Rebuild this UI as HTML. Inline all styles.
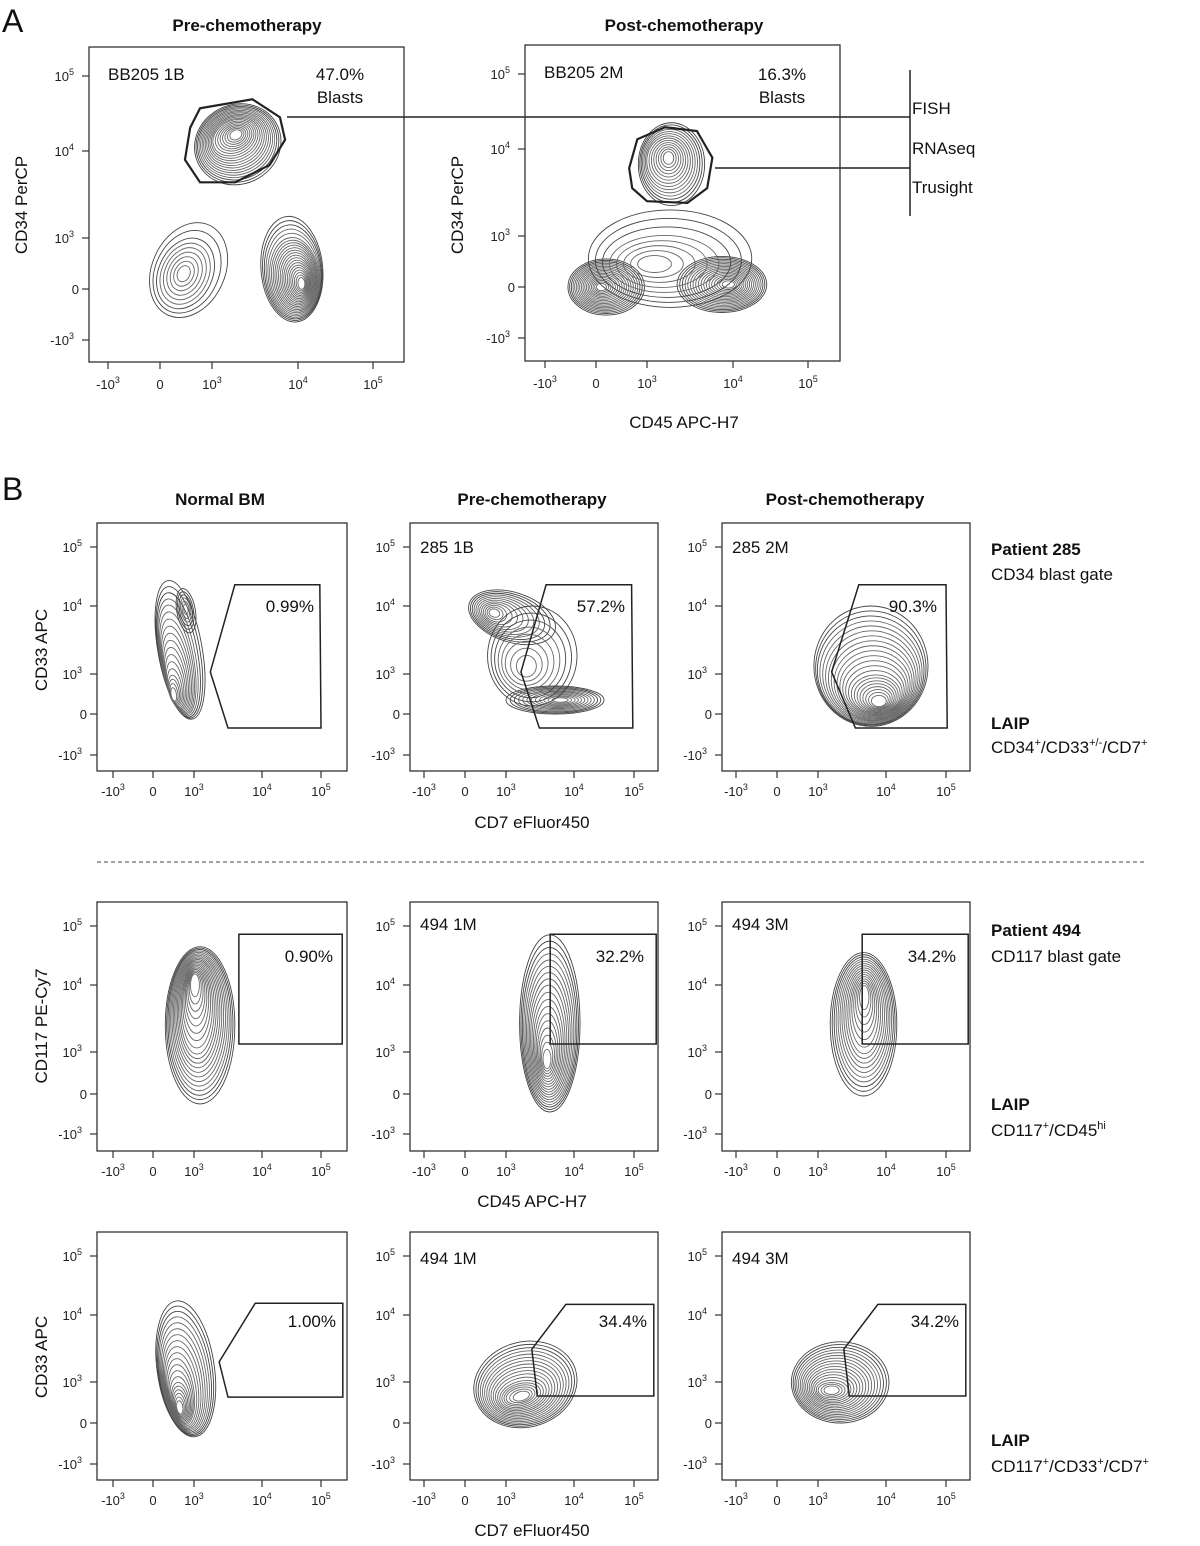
<!DOCTYPE html>
<html><head><meta charset="utf-8">
<style>
html,body{margin:0;padding:0;background:#fff;}
svg{display:block;font-family:"Liberation Sans",Arial,sans-serif;}
</style></head>
<body>
<svg id="fig" width="1200" height="1546" viewBox="0 0 1200 1546" xmlns="http://www.w3.org/2000/svg">
<g id="static" fill="#111">
  <text x="2" y="32" font-size="32">A</text>
  <text x="2" y="500" font-size="32">B</text>
  <text x="247" y="31" font-size="17" font-weight="bold" text-anchor="middle">Pre-chemotherapy</text>
  <text x="684" y="31" font-size="17" font-weight="bold" text-anchor="middle">Post-chemotherapy</text>
  <text x="220" y="505" font-size="17" font-weight="bold" text-anchor="middle">Normal BM</text>
  <text x="532" y="505" font-size="17" font-weight="bold" text-anchor="middle">Pre-chemotherapy</text>
  <text x="845" y="505" font-size="17" font-weight="bold" text-anchor="middle">Post-chemotherapy</text>
  <text x="684" y="428" font-size="17" text-anchor="middle">CD45 APC-H7</text>
  <text x="532" y="828" font-size="17" text-anchor="middle">CD7 eFluor450</text>
  <text x="532" y="1207" font-size="17" text-anchor="middle">CD45 APC-H7</text>
  <text x="532" y="1536" font-size="17" text-anchor="middle">CD7 eFluor450</text>
  <text transform="translate(27,205) rotate(-90)" font-size="17" text-anchor="middle">CD34 PerCP</text>
  <text transform="translate(463,205) rotate(-90)" font-size="17" text-anchor="middle">CD34 PerCP</text>
  <text transform="translate(47,650) rotate(-90)" font-size="17" text-anchor="middle">CD33 APC</text>
  <text transform="translate(47,1026) rotate(-90)" font-size="17" text-anchor="middle">CD117 PE-Cy7</text>
  <text transform="translate(47,1357) rotate(-90)" font-size="17" text-anchor="middle">CD33 APC</text>
  <text x="912" y="114" font-size="17">FISH</text>
  <text x="912" y="154" font-size="17">RNAseq</text>
  <text x="912" y="193" font-size="17">Trusight</text>
  <text x="991" y="555" font-size="17" font-weight="bold">Patient 285</text>
  <text x="991" y="580" font-size="17">CD34 blast gate</text>
  <text x="991" y="729" font-size="17" font-weight="bold">LAIP</text>
  <text x="991" y="753" font-size="17">CD34<tspan font-size="11" dy="-7">+</tspan><tspan dy="7">/CD33</tspan><tspan font-size="11" dy="-7">+/-</tspan><tspan dy="7">/CD7</tspan><tspan font-size="11" dy="-7">+</tspan></text>
  <line x1="97" y1="862" x2="1145" y2="862" stroke="#444" stroke-width="1" stroke-dasharray="4,3"/>
  <text x="991" y="936" font-size="17" font-weight="bold">Patient 494</text>
  <text x="991" y="962" font-size="17">CD117 blast gate</text>
  <text x="991" y="1110" font-size="17" font-weight="bold">LAIP</text>
  <text x="991" y="1136" font-size="17">CD117<tspan font-size="11" dy="-7">+</tspan><tspan dy="7">/CD45</tspan><tspan font-size="11" dy="-7">hi</tspan></text>
  <text x="991" y="1446" font-size="17" font-weight="bold">LAIP</text>
  <text x="991" y="1472" font-size="17">CD117<tspan font-size="11" dy="-7">+</tspan><tspan dy="7">/CD33</tspan><tspan font-size="11" dy="-7">+</tspan><tspan dy="7">/CD7</tspan><tspan font-size="11" dy="-7">+</tspan></text>
  <g stroke="#222" stroke-width="1.5">
    <line x1="287" y1="117" x2="910" y2="117"/>
    <line x1="715" y1="168" x2="910" y2="168"/>
    <line x1="910" y1="70" x2="910" y2="216"/>
  </g>
</g>
<g id="plots"></g>
</svg>
<script>
// tick values (decade display units): -10^3, 0, 10^3, 10^4, 10^5
const tickValues = [-1, 0, 1, 2, 3];
const tickLabels = [["-10","3"],["0",""],["10","3"],["10","4"],["10","5"]];
// populations: [cx, cy, rx, ry, rotationDeg, levels, coreDx, coreDy]
const popsA1 = [[1.23,2.12,0.58,0.5,-25,20,0.05,0.1],[0.5,0.3,0.65,0.9,25,9,-0.05,0],[1.95,0.3,0.38,0.95,-5,22,0.1,-0.2]];
const popsA2 = [[1.25,1.85,0.42,0.5,0,14,0,0.05],[0.2,0.0,0.75,0.55,0,18,-0.1,0],[1.9,0.05,0.55,0.55,0,18,0.05,0],[1.05,0.45,1.2,0.85,0,8,0,0]];
const popsB11 = [[0.62,1.15,0.5,1.3,-10,18,-0.12,-0.7],[0.8,1.95,0.22,0.35,-10,6,0,0]];
const popsB12 = [[0.9,1.85,0.85,0.38,18,12,-0.2,0.05],[1.75,0.35,0.75,0.35,0,12,0.05,0],[1.3,1.1,0.75,0.9,0,8,0,0]];
const popsB13 = [[1.8,0.85,0.9,1.15,0,22,0.1,-0.55]];
const popsB21 = [[0.95,1.2,0.65,1.45,0,20,0.05,0.85]];
const popsB22 = [[1.65,1.2,0.45,1.65,0,18,-0.05,-0.4]];
const popsB23 = [[1.68,1.25,0.5,1.3,0,16,0,0.6]];
const popsB31 = [[0.7,0.95,0.6,1.3,-8,20,-0.05,-0.6]];
const popsB32 = [[1.13,0.75,0.93,0.85,-15,18,0.1,-0.1]];
const popsB33 = [[1.2,0.8,0.85,0.8,0,18,0,0]];
// gate polygons [x, y] in decade units
const gateA1 = [[0.48,1.9],[0.58,2.31],[0.77,2.57],[1.47,2.69],[1.79,2.45],[1.85,2.15],[1.67,1.84],[1.27,1.64],[0.77,1.64]];
const gateA2 = [[0.65,1.78],[0.81,2.13],[1.21,2.29],[1.58,2.24],[1.76,1.9],[1.7,1.55],[1.47,1.38],[1.0,1.4],[0.71,1.55]];
const gateB11 = [[1.24,1.03],[1.6,2.36],[2.98,2.36],[3.0,-0.34],[1.5,-0.34]];
const gateB12 = [[1.22,1.03],[1.59,2.36],[2.96,2.36],[2.98,-0.34],[1.49,-0.34]];
const gateB13 = [[1.2,1.03],[1.6,2.36],[3.0,2.36],[3.02,-0.34],[1.55,-0.34]];
const gateB21 = [[1.66,2.86],[3.36,2.86],[3.36,1.12],[1.66,1.12]];
const gateB22 = [[1.65,2.86],[3.37,2.86],[3.37,1.12],[1.65,1.12]];
const gateB23 = [[1.65,2.86],[3.37,2.86],[3.37,1.12],[1.65,1.12]];
const gateB31 = [[1.37,1.3],[1.9,2.2],[3.37,2.2],[3.37,0.63],[1.5,0.63]];
const gateB32 = [[1.38,1.49],[1.88,2.18],[3.33,2.18],[3.33,0.66],[1.46,0.66]];
const gateB33 = [[1.38,1.49],[1.88,2.18],[3.33,2.18],[3.33,0.66],[1.46,0.66]];
const sampleLabels = ["BB205 1B","BB205 2M","","285 1B","285 2M","","494 1M","494 3M","","494 1M","494 3M"];
const pctLabels = ["47.0%","16.3%","0.99%","57.2%","90.3%","0.90%","32.2%","34.2%","1.00%","34.4%","34.2%"];

const NS = "http://www.w3.org/2000/svg";
const plots = document.getElementById('plots');
function mk(tag, attrs, parent){const e=document.createElementNS(NS,tag);for(const k in attrs)e.setAttribute(k,attrs[k]);parent.appendChild(e);return e;}

// layout (pixel geometry, not data)
const colX = [[97,347,[113,153,194,262,321]],[410,658,[424,465,506,574,634]],[722,970,[736,777,818,886,946]]];
const rowY = [[523,771,[755,714,674,606,547],-33,612,30],[902,1151,[1134,1094,1052,985,926],-14,962,28],[1232,1480,[1464,1423,1382,1315,1256],-11,1327,32]];
const panels = [
 {name:"a-pre",x0:89,x1:404,y0:47,y1:362,xt:[108,160,212,298,373],yt:[340,289,238,151,76],pops:popsA1,gate:gateA1,gw:2.2,si:0,pl:[340,80],bl:true},
 {name:"a-post",x0:525,x1:840,y0:45,y1:361,xt:[545,596,647,733,808],yt:[338,287,236,149,74],pops:popsA2,gate:gateA2,gw:2.2,si:1,pl:[782,80],bl:true}
];
const bp=[[popsB11,gateB11],[popsB12,gateB12],[popsB13,gateB13],[popsB21,gateB21],[popsB22,gateB22],[popsB23,gateB23],[popsB31,gateB31],[popsB32,gateB32],[popsB33,gateB33]];
for(let r=0;r<3;r++)for(let c=0;c<3;c++){
  const k=r*3+c;
  panels.push({name:"b-r"+(r+1)+"-c"+(c+1),x0:colX[c][0],x1:colX[c][1],y0:rowY[r][0],y1:rowY[r][1],xt:colX[c][2],yt:rowY[r][2],pops:bp[k][0],gate:bp[k][1],gw:1.5,si:2+k,pl:[colX[c][1]+rowY[r][3],rowY[r][4]],bl:false,sy:rowY[r][5]});
}
function interp(u, pix){
  let i = Math.floor(u - tickValues[0]);
  if(i<0)i=0; if(i>3)i=3;
  const t = u - tickValues[i];
  return pix[i] + t*(pix[i+1]-pix[i]);
}
panels.forEach(p=>{
  const g=mk('g',{},plots);
  
  
  const px=u=>interp(u,p.xt), py=v=>interp(v,p.yt);
  const cg=mk('g',{fill:'none','stroke-width':0.9},g);
  
  
  p.pops.forEach(d=>{
    const [cx,cy,rx,ry,rot,n,kx,ky]=d;
    for(let i=0;i<n;i++){
      const s=1-i/n*0.92, f=i/n;
      const ccx=cx+kx*f, ccy=cy+ky*f;
      const xa=px(ccx-rx*s), xb=px(ccx+rx*s), ya=py(ccy-ry*s), yb=py(ccy+ry*s);
      const ex=(xa+xb)/2, ey=(ya+yb)/2;
      const e=mk('ellipse',{cx:ex,cy:ey,rx:Math.abs(xb-xa)/2,ry:Math.abs(yb-ya)/2,transform:`rotate(${rot} ${ex} ${ey})`,stroke:i<3?'#444':'#666'},cg);
      
      
    }
  });
  const fr=mk('rect',{x:p.x0,y:p.y0,width:p.x1-p.x0,height:p.y1-p.y0,fill:'none',stroke:'#333','stroke-width':1.3},g);
  
  
  const gp=mk('polygon',{points:p.gate.map(q=>px(q[0])+','+py(q[1])).join(' '),fill:'none',stroke:'#222','stroke-width':p.gw},g);
  
  
  const lo=p.bl?27:25;
  tickValues.forEach((v,i)=>{
    const x=px(v), y=py(v);
    const tx=mk('line',{x1:x,y1:p.y1,x2:x,y2:p.y1+7,stroke:'#333','stroke-width':1.2},g);
    
    
    const ty=mk('line',{x1:p.x0-7,y1:y,x2:p.x0,y2:y,stroke:'#333','stroke-width':1.2},g);
    
    
    const lab=tickLabels[i];
    const t1=mk('text',{x:x,y:p.y1+lo,'font-size':13,'text-anchor':'middle',fill:'#222'},g);
    
    
    t1.appendChild(document.createTextNode(lab[0]));
    if(lab[1]){const s=mk('tspan',{'font-size':9,dy:-6},t1);s.textContent=lab[1];}
    const t2=mk('text',{x:p.x0-10-(lab[1]?5:0),y:y+5,'font-size':13,'text-anchor':'end',fill:'#222'},g);
    
    
    t2.appendChild(document.createTextNode(lab[0]));
    if(lab[1]){const s=mk('tspan',{'font-size':9,dy:-6},t2);s.textContent=lab[1];}
  });
  const sl=sampleLabels[p.si];
  if(sl){const t=mk('text',{x:p.x0+(p.bl?19:10),y:p.y0+(p.bl?33:p.sy),'font-size':17,fill:'#111'},g);t.textContent=sl;}
  const pt=mk('text',{x:p.pl[0],y:p.pl[1],'font-size':17,'text-anchor':p.bl?'middle':'end',fill:'#111'},g);
  
  
  pt.textContent=pctLabels[p.si];
  if(p.bl){const b=mk('text',{x:p.pl[0],y:p.pl[1]+23,'font-size':17,'text-anchor':'middle',fill:'#111'},g);b.textContent='Blasts';}
});
</script>
</body></html>
